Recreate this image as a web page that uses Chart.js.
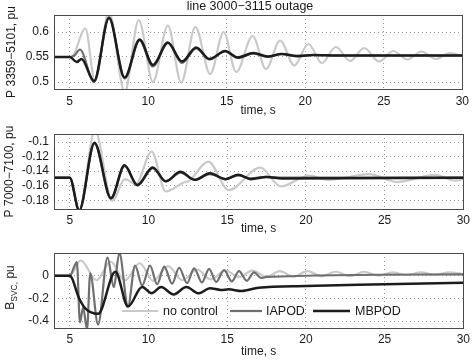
<!DOCTYPE html>
<html>
<head>
<meta charset="utf-8">
<script src="https://cdn.jsdelivr.net/npm/chart.js@4.4.1/dist/chart.umd.min.js"></script>
<style>
  html, body { margin: 0; padding: 0; background: #fff; }
  #wrap { position: relative; width: 474px; height: 361px; overflow: hidden; }
  .panel { position: absolute; left: 0; width: 474px; }
</style>
</head>
<body>
<div id="wrap">
  <div class="panel" style="top:0;height:120px"><canvas id="c1"></canvas></div>
  <div class="panel" style="top:120px;height:118px"><canvas id="c2"></canvas></div>
  <div class="panel" style="top:238px;height:123px"><canvas id="c3"></canvas></div>
</div>
<script>
// Text
const plotTitle = 'line 3000\u22123115 outage';
const seriesNames = ['no control', 'IAPOD', 'MBPOD'];
const xTitle = 'time, s';
const xTicks = [5, 10, 15, 20, 25, 30];

// Panel 1: P 3359-5101 (values read at peaks / troughs)
const p1NoCtrlT = [4, 5.1, 6.0, 6.6, 7.5, 8.5, 9.4, 10.3, 11.25, 12.1, 13.0, 13.95, 14.8, 15.6, 16.65, 17.5, 18.4, 19.3, 20.2, 21.05, 21.95, 22.85, 23.75, 24.7, 25.6, 26.5, 27.4, 28.3, 29.2, 30];
const p1NoCtrlV = [0.55, 0.55, 0.607, 0.502, 0.64, 0.48, 0.624, 0.50, 0.613, 0.499, 0.61, 0.516, 0.60, 0.52, 0.592, 0.526, 0.583, 0.533, 0.576, 0.538, 0.570, 0.542, 0.568, 0.541, 0.562, 0.545, 0.561, 0.546, 0.558, 0.552];
const p1IapodT = [4, 5.0, 5.3, 5.65, 6.55, 7.5, 8.5, 9.45, 10.3, 11.25, 12.15, 13.05, 13.9, 14.9, 15.7, 16.7, 17.6, 18.5, 19.5, 20.5, 22, 30];
const p1IapodV = [0.55, 0.55, 0.553, 0.565, 0.500, 0.630, 0.507, 0.583, 0.531, 0.578, 0.538, 0.567, 0.545, 0.561, 0.548, 0.557, 0.550, 0.556, 0.551, 0.554, 0.553, 0.553];
const p1MbpodT = [4, 5.0, 5.45, 5.75, 6.55, 7.5, 8.5, 9.45, 10.3, 11.25, 12.15, 13.05, 13.9, 14.9, 15.7, 16.7, 17.6, 18.5, 19.5, 20.5, 22, 30];
const p1MbpodV = [0.55, 0.55, 0.540, 0.546, 0.502, 0.628, 0.509, 0.585, 0.534, 0.579, 0.541, 0.569, 0.546, 0.562, 0.549, 0.558, 0.551, 0.556, 0.552, 0.554, 0.553, 0.553];
const p1YTicks = [0.5, 0.55, 0.6];

// Panel 2: P 7000-7100
const p2NoCtrlT = [4, 5.0, 5.6, 6.6, 7.7, 8.5, 9.2, 10.2, 11.1, 12.2, 12.6, 13.8, 15.1, 17.1, 18.4, 20.2, 21.4, 24.0, 25.8, 28.2, 29.5, 30];
const p2NoCtrlV = [-0.149, -0.149, -0.194, -0.084, -0.181, -0.151, -0.158, -0.113, -0.168, -0.156, -0.153, -0.127, -0.166, -0.135, -0.161, -0.146, -0.152, -0.144, -0.155, -0.145, -0.153, -0.151];
const p2IapodT = [4, 5.0, 5.6, 6.57, 7.62, 8.48, 9.3, 10.27, 11.1, 12.03, 12.95, 13.9, 14.9, 15.7, 16.5, 17.5, 18.5, 30];
const p2IapodV = [-0.149, -0.149, -0.194, -0.102, -0.178, -0.133, -0.160, -0.136, -0.154, -0.142, -0.152, -0.144, -0.151, -0.146, -0.150, -0.148, -0.149, -0.149];
const p2MbpodT = [4, 5.0, 5.6, 6.57, 7.62, 8.48, 9.3, 10.27, 11.1, 12.03, 12.95, 13.9, 14.9, 15.7, 16.5, 17.5, 18.5, 30];
const p2MbpodV = [-0.149, -0.149, -0.194, -0.101, -0.177, -0.132, -0.159, -0.135, -0.154, -0.141, -0.152, -0.143, -0.151, -0.145, -0.151, -0.148, -0.150, -0.149];
const p2YTicks = [-0.18, -0.16, -0.14, -0.12, -0.1];

// Panel 3: B_SVC
const p3NoCtrlT = [4, 5.0, 5.7, 6.7, 7.6, 8.5, 9.45, 10.3, 11.25, 12.15, 13.1, 13.95, 14.9, 15.75, 16.6, 17.5, 18.35, 19.2, 20.1, 21.0, 21.9, 22.8, 23.7, 24.6, 25.5, 26.4, 27.3, 28.2, 29.1, 30];
const p3NoCtrlV = [0, 0, 0.135, -0.04, 0.125, -0.042, 0.11, -0.045, 0.085, -0.04, 0.055, -0.032, 0.045, -0.012, 0.045, -0.01, 0.04, -0.008, 0.04, -0.005, 0.035, -0.003, 0.035, 0.0, 0.03, 0.005, 0.03, 0.008, 0.03, 0.015];
const p3IapodT = [4, 5.0, 5.45, 5.65, 5.85, 6.1, 6.3, 6.8, 7.4, 7.8, 8.15, 8.7, 9.15, 9.6, 10.1, 10.55, 11.0, 11.5, 11.95, 12.45, 12.9, 13.4, 13.85, 14.3, 14.8, 15.3, 15.75, 16.25, 16.7, 17.15, 17.5, 30];
const p3IapodV = [0, 0, 0.12, -0.41, -0.28, -0.47, 0.02, -0.43, 0.16, -0.1, 0.2, -0.27, 0.09, -0.085, 0.09, -0.075, 0.08, -0.07, 0.07, -0.065, 0.065, -0.06, 0.06, -0.055, 0.05, -0.05, 0.04, -0.045, 0.03, -0.02, -0.01, 0.012];
const p3MbpodT = [4, 5.0, 5.6, 6.0, 6.8, 7.9, 8.7, 9.6, 10.2, 10.8, 11.6, 12.4, 13.2, 13.9, 14.6, 15.1, 15.9, 17.0, 20, 25, 30];
const p3MbpodV = [0, 0, -0.2, -0.29, -0.335, 0.035, -0.27, -0.1, -0.155, -0.1, -0.165, -0.1, -0.155, -0.11, -0.125, -0.12, -0.135, -0.105, -0.09, -0.076, -0.062];
const p3YTicks = [-0.4, -0.2, 0];

const colors = ['#c9c9c9', '#6f6f6f', '#1c1c1c'];
const widths = [2.2, 2.2, 2.5];

Chart.defaults.font.family = "'Liberation Sans', Arial, sans-serif";
Chart.defaults.font.size = 12;
Chart.defaults.color = '#1a1a1a';

function pts(ts, vs) {
    return ts.map((t, i) => ({ x: t, y: vs[i] }));
}

function makeDatasets(series) {
    return series.map((s, i) => ({
        label: seriesNames[i],
        data: pts(s[0], s[1]),
        borderColor: colors[i],
        borderWidth: widths[i],
        pointRadius: 0,
        cubicInterpolationMode: 'monotone',
        fill: false,
        clip: 0,
        order: 2 - i
    }));
}

// box around the axes
const framePlugin = {
    id: 'frame',
    afterDatasetsDraw(chart) {
        const a = chart.chartArea;
        const ctx = chart.ctx;
        ctx.save();
        ctx.strokeStyle = '#4a4a4a';
        ctx.lineWidth = 1;
        ctx.strokeRect(Math.round(a.left) + 0.5, Math.round(a.top) + 0.5,
            Math.round(a.right - a.left), Math.round(a.bottom - a.top));
        ctx.restore();
    }
};

function makePanel(id, cfg) {
    const ctx = document.getElementById(id).getContext('2d');
    return new Chart(ctx, {
        type: 'line',
        data: { datasets: makeDatasets(cfg.series) },
        options: {
            responsive: true,
            maintainAspectRatio: false,
            animation: false,
            events: [],
            layout: { padding: { top: cfg.padTop, right: 8, left: 0, bottom: 0 } },
            plugins: {
                legend: { display: false },
                tooltip: { enabled: false }
            },
            scales: {
                x: {
                    type: 'linear',
                    min: 4,
                    max: 30,
                    afterBuildTicks: s => { s.ticks = xTicks.map(v => ({ value: v })); },
                    afterFit: s => { s.height = cfg.xHeight; },
                    ticks: { padding: cfg.xTickPad, maxRotation: 0, autoSkip: false },
                    grid: { color: '#9a9a9a', lineWidth: 1, drawTicks: false },
                    border: { display: false, dash: [1, 3] },
                    title: { display: true, text: xTitle, padding: { top: 0, bottom: 2 } }
                },
                y: {
                    type: 'linear',
                    min: cfg.yMin,
                    max: cfg.yMax,
                    afterBuildTicks: s => { s.ticks = cfg.yTicks.map(v => ({ value: v })); },
                    afterFit: s => { s.width = 54; },
                    ticks: {
                        padding: 5,
                        callback: v => String(v)
                    },
                    grid: { color: '#9a9a9a', lineWidth: 1, drawTicks: false },
                    border: { display: false, dash: [1, 3] },
                    title: {
                        display: !!cfg.yTitle,
                        text: cfg.yTitle || '',
                        padding: { top: cfg.yTitlePad, bottom: 0 }
                    }
                }
            }
        },
        plugins: [framePlugin].concat(cfg.plugins || [])
    });
}

const titlePlugin = {
    id: 'topTitle',
    afterDraw(chart) {
        const ctx = chart.ctx;
        ctx.save();
        ctx.font = "12.5px 'Liberation Sans', Arial, sans-serif";
        ctx.fillStyle = '#1a1a1a';
        ctx.textAlign = 'center';
        ctx.textBaseline = 'middle';
        ctx.fillText(plotTitle, 250, 7);
        ctx.restore();
    }
};

// y label with subscript for the SVC panel
const bsvcLabel = {
    id: 'bsvcLabel',
    afterDraw(chart) {
        const a = chart.chartArea;
        const ctx = chart.ctx;
        ctx.save();
        ctx.translate(10, (a.top + a.bottom) / 2 - 3);
        ctx.rotate(-Math.PI / 2);
        ctx.fillStyle = '#1a1a1a';
        ctx.textBaseline = 'alphabetic';
        const big = "12px 'Liberation Sans', Arial, sans-serif";
        const small = "8.5px 'Liberation Sans', Arial, sans-serif";
        ctx.font = big;
        const wB = ctx.measureText('B').width;
        ctx.font = small;
        const wS = ctx.measureText('SVC,').width;
        ctx.font = big;
        const wP = ctx.measureText(' pu').width;
        let x = -(wB + wS + wP) / 2;
        const y = 4;
        ctx.fillText('B', x, y);
        x += wB;
        ctx.font = small;
        ctx.fillText('SVC,', x, y + 3);
        x += wS;
        ctx.font = big;
        ctx.fillText(' pu', x, y);
        ctx.restore();
    }
};

// legend drawn inside the lower axes
const innerLegend = {
    id: 'innerLegend',
    afterDatasetsDraw(chart) {
        const a = chart.chartArea;
        const ctx = chart.ctx;
        const y = a.top + 58;
        const items = [[68, 104, 109], [176, 208, 212], [259, 296, 301]];
        ctx.save();
        ctx.font = "12.5px 'Liberation Sans', Arial, sans-serif";
        ctx.textBaseline = 'middle';
        ctx.fillStyle = '#1a1a1a';
        items.forEach((it, i) => {
            ctx.strokeStyle = colors[i];
            ctx.lineWidth = widths[i];
            ctx.beginPath();
            ctx.moveTo(a.left + it[0], y);
            ctx.lineTo(a.left + it[1], y);
            ctx.stroke();
            ctx.fillText(seriesNames[i], a.left + it[2], y + 1);
        });
        ctx.restore();
    }
};

makePanel('c1', {
    series: [[p1NoCtrlT, p1NoCtrlV], [p1IapodT, p1IapodV], [p1MbpodT, p1MbpodV]],
    yMin: 0.486, yMax: 0.634, yTicks: p1YTicks,
    yTitle: 'P 3359\u22125101, pu', yTitlePad: 4,
    padTop: 15, xHeight: 31, xTickPad: 5,
    plugins: [titlePlugin]
});

makePanel('c2', {
    series: [[p2NoCtrlT, p2NoCtrlV], [p2IapodT, p2IapodV], [p2MbpodT, p2MbpodV]],
    yMin: -0.192, yMax: -0.089, yTicks: p2YTicks,
    yTitle: 'P 7000\u22127100, pu', yTitlePad: 2,
    padTop: 14, xHeight: 29, xTickPad: 4
});

makePanel('c3', {
    series: [[p3NoCtrlT, p3NoCtrlV], [p3IapodT, p3IapodV], [p3MbpodT, p3MbpodV]],
    yMin: -0.46, yMax: 0.2, yTicks: p3YTicks,
    yTitle: null, yTitlePad: 0,
    padTop: 15, xHeight: 33, xTickPad: 4,
    plugins: [bsvcLabel, innerLegend]
});
</script>
</body>
</html>
